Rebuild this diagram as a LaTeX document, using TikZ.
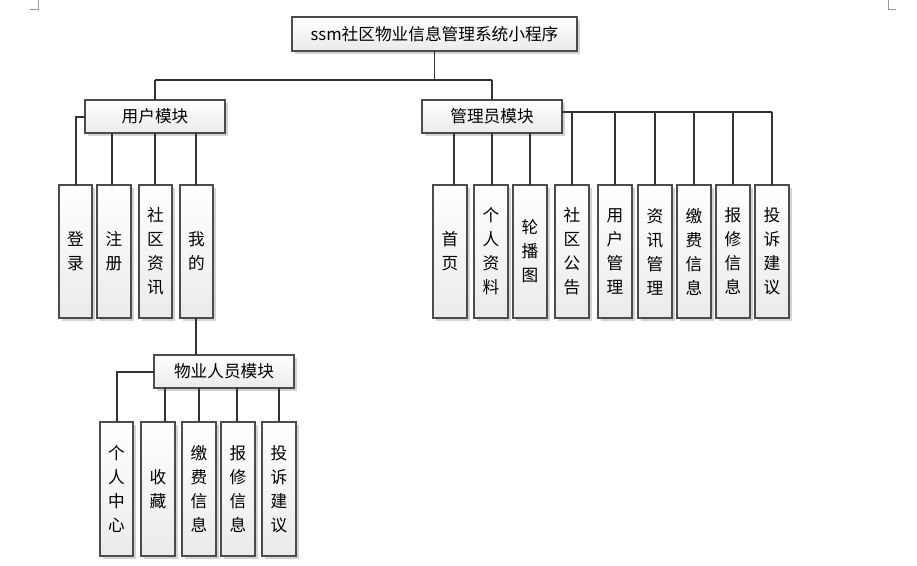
\documentclass[tikz,border=0pt]{standalone}
\usepackage{fontspec}
\setmainfont{Liberation Serif}
\newfontfamily\cjk{Noto Sans CJK SC}
\usetikzlibrary{shadows}
\begin{document}
\begin{tikzpicture}[x=0.75pt,y=-0.75pt,
  bx/.style={draw=black!70,line width=0.9pt,top color=white,bottom color=black!8,
    drop shadow={shadow xshift=2pt,shadow yshift=-2pt,opacity=0.35,fill=black!50}},
  ln/.style={draw=black!80,line width=0.9pt}]
\useasboundingbox (0,0) rectangle (917,565);
\draw[black!40] (38,0)--(38,9)--(30,9);
\draw[black!40] (888,0)--(888,9)--(896,9);
% boxes
\path[bx] (292,17) rectangle (577,51); \node[font=\cjk\fontsize{12.5}{14}\selectfont] (t) at (434.5,34) {ssm社区物业信息管理系统小程序};
\path[bx] (85,100) rectangle (225,133); \node[font=\cjk\fontsize{12.5}{14}\selectfont] (u) at (155,116.5) {用户模块};
\path[bx] (422,100) rectangle (562,133); \node[font=\cjk\fontsize{12.5}{14}\selectfont] (a) at (492,116.5) {管理员模块};
\path[bx] (154,355) rectangle (294,388); \node[font=\cjk\fontsize{12.5}{14}\selectfont] (w) at (224,371.5) {物业人员模块};
\newcommand\myvb[6]{\path[bx] (#2,#3) rectangle (#4,#5); \node[font=\cjk\fontsize{12.5}{18}\selectfont,align=center,inner sep=0] (#1) at ({(#2+#4)/2},{(#3+#5)/2}) {#6};}
\myvb{u1}{59}{185}{92}{318}{登\\录}
\myvb{u2}{97}{185}{131}{318}{注\\册}
\myvb{u3}{139}{185}{172}{318}{社\\区\\资\\讯}
\myvb{u4}{180}{185}{213}{318}{我\\的}
\myvb{w1}{100}{422}{133}{556}{个\\人\\中\\心}
\myvb{w2}{141}{422}{175}{556}{收\\藏}
\myvb{w3}{182}{422}{216}{556}{缴\\费\\信\\息}
\myvb{w4}{221}{422}{255}{556}{报\\修\\信\\息}
\myvb{w5}{262}{422}{296}{556}{投\\诉\\建\\议}
\myvb{a1}{433}{185}{467}{318}{首\\页}
\myvb{a2}{474}{185}{508}{318}{个\\人\\资\\料}
\myvb{a3}{513}{185}{547}{318}{轮\\播\\图}
\myvb{a4}{555}{185}{589}{318}{社\\区\\公\\告}
\myvb{a5}{598}{185}{632}{318}{用\\户\\管\\理}
\myvb{a6}{638}{185}{672}{318}{资\\讯\\管\\理}
\myvb{a7}{677}{185}{711}{318}{缴\\费\\信\\息}
\myvb{a8}{716}{185}{750}{318}{报\\修\\信\\息}
\myvb{a9}{755}{185}{789}{318}{投\\诉\\建\\议}
% connectors
\draw[ln] (434.5,51)--(434.5,80) (155,80)--(492,80) (155,80)--(155,100) (492,80)--(492,100);
\draw[ln] (85,117)--(76,117)--(76,185);
\draw[ln] (112,133)--(112,185) (155,133)--(155,185) (196,133)--(196,185);
\draw[ln] (196,318)--(196,355);
\draw[ln] (154,372)--(117,372)--(117,422);
\draw[ln] (165,388)--(165,422) (199,388)--(199,422) (237,388)--(237,422) (279,388)--(279,422);
\draw[ln] (454,133)--(454,185) (492,133)--(492,185) (530,133)--(530,185);
\draw[ln] (562,112)--(772,112);
\foreach \x in {572,615,655,694,733,772} \draw[ln] (\x,112)--(\x,185);
\end{tikzpicture}
\end{document}
